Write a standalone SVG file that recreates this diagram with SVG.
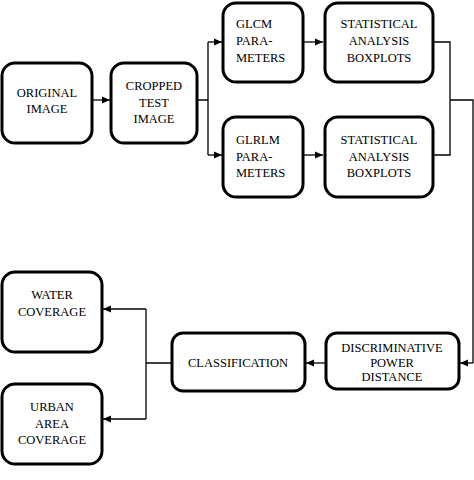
<svg xmlns="http://www.w3.org/2000/svg" width="474" height="480" viewBox="0 0 474 480">
<defs>
<marker id="ah" markerWidth="8" markerHeight="8" refX="8" refY="4" orient="auto" markerUnits="userSpaceOnUse">
<path d="M0,0.5 L8,4 L0,7.5 Z" fill="#000"/>
</marker>
<style>
.box{fill:#fff;stroke:#000;stroke-width:3}
.t{font-family:"Liberation Serif",serif;font-size:12.5px;fill:#000;text-anchor:middle}
.l{text-anchor:start}
.c{fill:none;stroke:#000;stroke-width:1.3}
.a{marker-end:url(#ah)}
</style>
</defs>
<rect width="474" height="480" fill="#fff"/>
<g id="connectors">
<path class="c a" d="M92,100 H110"/>
<path class="c" d="M197,100 H208 M208,42 V155"/>
<path class="c a" d="M208,42 H222"/>
<path class="c a" d="M208,155 H222"/>
<path class="c a" d="M303,42 H323"/>
<path class="c a" d="M303,155 H323"/>
<path class="c" d="M433,42 H450 V155 H433 M450,100 H473 V363"/>
<path class="c a" d="M473,363 H460"/>
<path class="c a" d="M325,363 H306"/>
<path class="c" d="M171,363 H146 M146,309 V419"/>
<path class="c a" d="M146,309 H103"/>
<path class="c a" d="M146,419 H103"/>
</g>
<g id="original">
<rect class="box" x="2" y="63" width="90" height="80" rx="13"/>
<text class="t" x="47" y="97">ORIGINAL</text>
<text class="t" x="47" y="113">IMAGE</text>
</g>
<g id="cropped">
<rect class="box" x="111" y="63" width="86" height="80" rx="13"/>
<text class="t" x="154" y="90">CROPPED</text>
<text class="t" x="154" y="107">TEST</text>
<text class="t" x="154" y="123">IMAGE</text>
</g>
<g id="glcm">
<rect class="box" x="223" y="3" width="80" height="79" rx="13"/>
<text class="t l" x="236" y="28">GLCM</text>
<text class="t l" x="236" y="45">PARA-</text>
<text class="t l" x="236" y="62">METERS</text>
</g>
<g id="stat1">
<rect class="box" x="325" y="3" width="108" height="79" rx="13"/>
<text class="t" x="379" y="28">STATISTICAL</text>
<text class="t" x="379" y="45">ANALYSIS</text>
<text class="t" x="379" y="62">BOXPLOTS</text>
</g>
<g id="glrlm">
<rect class="box" x="223" y="117" width="80" height="80" rx="13"/>
<text class="t l" x="236" y="144">GLRLM</text>
<text class="t l" x="236" y="161">PARA-</text>
<text class="t l" x="236" y="177">METERS</text>
</g>
<g id="stat2">
<rect class="box" x="325" y="117" width="108" height="80" rx="13"/>
<text class="t" x="379" y="144">STATISTICAL</text>
<text class="t" x="379" y="161">ANALYSIS</text>
<text class="t" x="379" y="177">BOXPLOTS</text>
</g>
<g id="discriminative">
<rect class="box" x="326" y="333" width="133" height="56" rx="11"/>
<text class="t" x="392" y="352">DISCRIMINATIVE</text>
<text class="t" x="392" y="367">POWER</text>
<text class="t" x="392" y="381">DISTANCE</text>
</g>
<g id="classification">
<rect class="box" x="172" y="333" width="133" height="58" rx="11"/>
<text class="t" x="238" y="367">CLASSIFICATION</text>
</g>
<g id="water">
<rect class="box" x="2" y="272" width="100" height="80" rx="13"/>
<text class="t" x="52" y="299">WATER</text>
<text class="t" x="52" y="316">COVERAGE</text>
</g>
<g id="urban">
<rect class="box" x="2" y="384" width="100" height="80" rx="13"/>
<text class="t" x="52" y="411">URBAN</text>
<text class="t" x="52" y="428">AREA</text>
<text class="t" x="52" y="444">COVERAGE</text>
</g>
</svg>
